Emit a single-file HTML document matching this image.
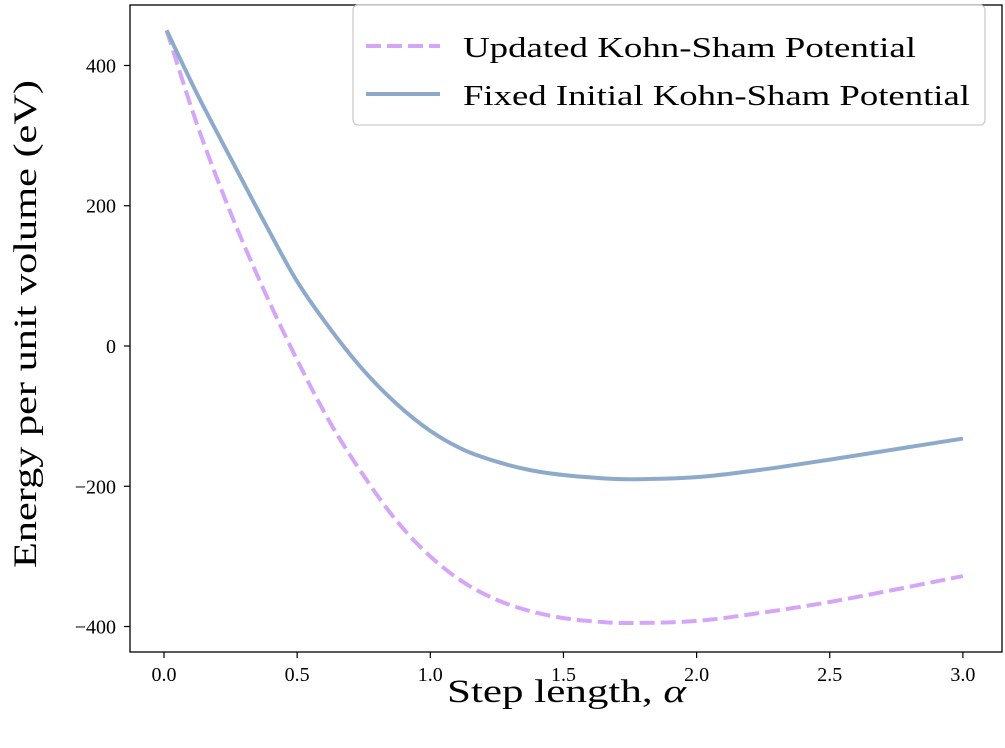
<!DOCTYPE html>
<html><head><meta charset="utf-8"><style>
body{margin:0;background:#fff;}
svg text{font-family:"Liberation Serif",serif;fill:#000;}
</style></head><body>
<svg id="chart" width="1005" height="743" viewBox="0 0 1005 743" xmlns="http://www.w3.org/2000/svg">
<rect x="0" y="0" width="1005" height="743" fill="#fff"/>
<g id="plot"></g>
<rect x="130" y="5" width="872" height="647" fill="none" stroke="#000" stroke-width="1.3"/>
<g id="xticks"></g><g id="yticks"></g>
<text x="447" y="702" font-size="33" textLength="239" lengthAdjust="spacingAndGlyphs">Step length, <tspan font-style="italic">α</tspan></text>
<text transform="translate(36,568) rotate(-90)" font-size="33" textLength="488" lengthAdjust="spacingAndGlyphs">Energy per unit volume (eV)</text>
<g>
<rect x="353" y="5" width="632" height="120" rx="5" fill="#fff" fill-opacity="0.8" stroke="#ccc" stroke-width="1.3"/>
<line x1="366" y1="46" x2="440" y2="46" stroke="#d5a6f7" stroke-width="4" stroke-dasharray="15,6"/>
<text x="463" y="57" font-size="29" textLength="453" lengthAdjust="spacingAndGlyphs">Updated Kohn-Sham Potential</text>
<line x1="366" y1="94" x2="440" y2="94" stroke="#8eaacb" stroke-width="4"/>
<text x="463" y="105" font-size="29" textLength="507" lengthAdjust="spacingAndGlyphs">Fixed Initial Kohn-Sham Potential</text>
</g>
</svg>
<script>
const alphas=[0.01,0.125,0.25,0.375,0.5,0.625,0.75,0.875,1.0,1.125,1.25,1.375,1.5,1.625,1.75,2.0,2.25,2.5,2.75,3.0];
const fixedVals=[450,359,268,178,92,24,-35,-83,-121,-148,-165,-177,-184,-188,-190,-187,-176,-162,-147,-132];
const updatedVals=[450,315,190,80,-20,-110,-185,-250,-300,-337,-362,-378,-388,-393,-395,-392,-380,-365,-347,-328];
const xTicks=[0,0.5,1.0,1.5,2.0,2.5,3.0];
const yTicks=[400,200,0,-200,-400];
const X=a=>164+a*266.3;
const Y=v=>346-v*0.7013;
const NS="http://www.w3.org/2000/svg";
function pathFor(vals){
  const p=alphas.map((a,i)=>[X(a),Y(vals[i])]);
  let d="M"+p[0][0]+","+p[0][1];
  for(let i=0;i<p.length-1;i++){
    const p0=p[Math.max(0,i-1)],p1=p[i],p2=p[i+1],p3=p[Math.min(p.length-1,i+2)];
    const c1=[p1[0]+(p2[0]-p0[0])/6,p1[1]+(p2[1]-p0[1])/6];
    const c2=[p2[0]-(p3[0]-p1[0])/6,p2[1]-(p3[1]-p1[1])/6];
    d+=" C"+c1+" "+c2+" "+p2;
  }
  return d;
}
const plot=document.getElementById("plot");
const u=document.createElementNS(NS,"path");


u.setAttribute("d",pathFor(updatedVals));u.setAttribute("fill","none");u.setAttribute("stroke","#d5a6f7");u.setAttribute("stroke-width","4");u.setAttribute("stroke-dasharray","15,6");
plot.appendChild(u);
const f=document.createElementNS(NS,"path");


f.setAttribute("d",pathFor(fixedVals));f.setAttribute("fill","none");f.setAttribute("stroke","#8eaacb");f.setAttribute("stroke-width","4");
plot.appendChild(f);
const xg=document.getElementById("xticks");
xTicks.forEach(t=>{
  const l=document.createElementNS(NS,"line");
  
  
  l.setAttribute("x1",X(t));l.setAttribute("x2",X(t));l.setAttribute("y1",652);l.setAttribute("y2",658);l.setAttribute("stroke","#000");l.setAttribute("stroke-width","1.2");
  xg.appendChild(l);
  const tx=document.createElementNS(NS,"text");
  
  
  tx.setAttribute("x",X(t));tx.setAttribute("y",681);tx.setAttribute("font-size","20");tx.setAttribute("text-anchor","middle");
  tx.textContent=t.toFixed(1);xg.appendChild(tx);
});
const yg=document.getElementById("yticks");
yTicks.forEach(t=>{
  const l=document.createElementNS(NS,"line");
  
  
  l.setAttribute("x1",124);l.setAttribute("x2",130);l.setAttribute("y1",Y(t));l.setAttribute("y2",Y(t));l.setAttribute("stroke","#000");l.setAttribute("stroke-width","1.2");
  yg.appendChild(l);
  const tx=document.createElementNS(NS,"text");
  
  
  tx.setAttribute("x",116);tx.setAttribute("y",Y(t)+7);tx.setAttribute("font-size","20");tx.setAttribute("text-anchor","end");
  tx.textContent=(t<0?"−":"")+Math.abs(t);yg.appendChild(tx);
});
</script>
</body></html>
